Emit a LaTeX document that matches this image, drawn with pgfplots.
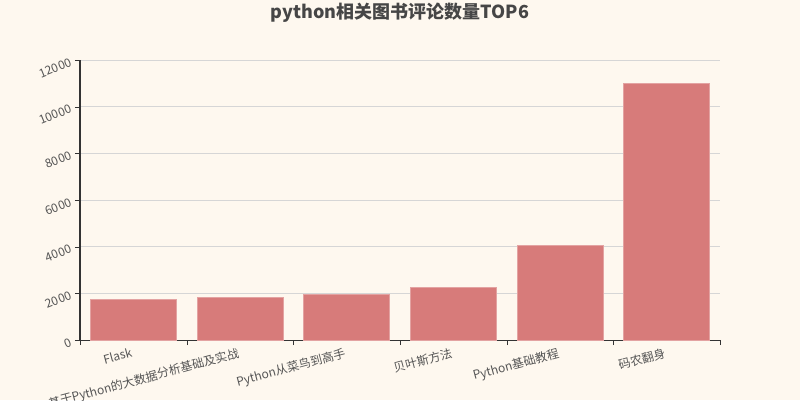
\documentclass[border=0pt]{standalone}
\usepackage{fontspec}
\setmainfont{Noto Sans CJK SC}
\usepackage{pgfplots}
\pgfplotsset{compat=1.18}
\definecolor{bg}{HTML}{FEF8EF}
\definecolor{barc}{HTML}{D77B7A}
\definecolor{lbl}{HTML}{555555}
\definecolor{ttl}{HTML}{464646}
\definecolor{gridc}{HTML}{D6D6D6}
\definecolor{axc}{HTML}{333333}
\begin{document}
\begin{tikzpicture}[x=1pt,y=1pt]
\fill[bg] (0,0) rectangle (800,400);
\useasboundingbox (0,0) rectangle (800,400);
\node[font=\fontsize{18}{21}\selectfont\bfseries, text=ttl] at (400,387) {python相关图书评论数量TOP6};
\begin{axis}[
  at={(80pt,60pt)}, anchor=south west,
  width=640pt, height=280pt, scale only axis,
  xmin=-0.5, xmax=5.5, ymin=0, ymax=12000,
  ytick={0,2000,...,12000},
  xtick={0,...,5},
  xticklabels={Flask,基于Python的大数据分析基础及实战,Python从菜鸟到高手,贝叶斯方法,Python基础教程,码农翻身},
  minor xtick={-0.5,0.5,...,5.5},
  major x tick style={draw=none},
  minor x tick style={draw=axc},
  minor tick length=5pt,
  major tick length=5pt,
  tick align=outside,
  axis x line*=bottom, axis y line*=left,
  axis line style={-, draw=axc, line width=1pt},
  ymajorgrids, grid style={gridc, line width=0.8pt},
  y tick style={draw=axc},
  scaled y ticks=false,
  /pgf/number format/assume math mode=true,
  yticklabel={\pgfmathprintnumber[fixed,1000 sep={}]{\tick}},
  tick label style={font=\fontsize{12}{14}\selectfont, text=lbl},
  yticklabel style={rotate=22, anchor=east, xshift=-1pt},
  xticklabel style={rotate=15, anchor=north east, yshift=2pt},
  ybar, bar width=86pt,
  clip=false,
]
\addplot[fill=barc, draw=barc!70!white, line width=0.6pt] coordinates {
(0,1727) (1,1829) (2,1957) (3,2243) (4,4071) (5,11014)};
\end{axis}
\end{tikzpicture}
\end{document}
